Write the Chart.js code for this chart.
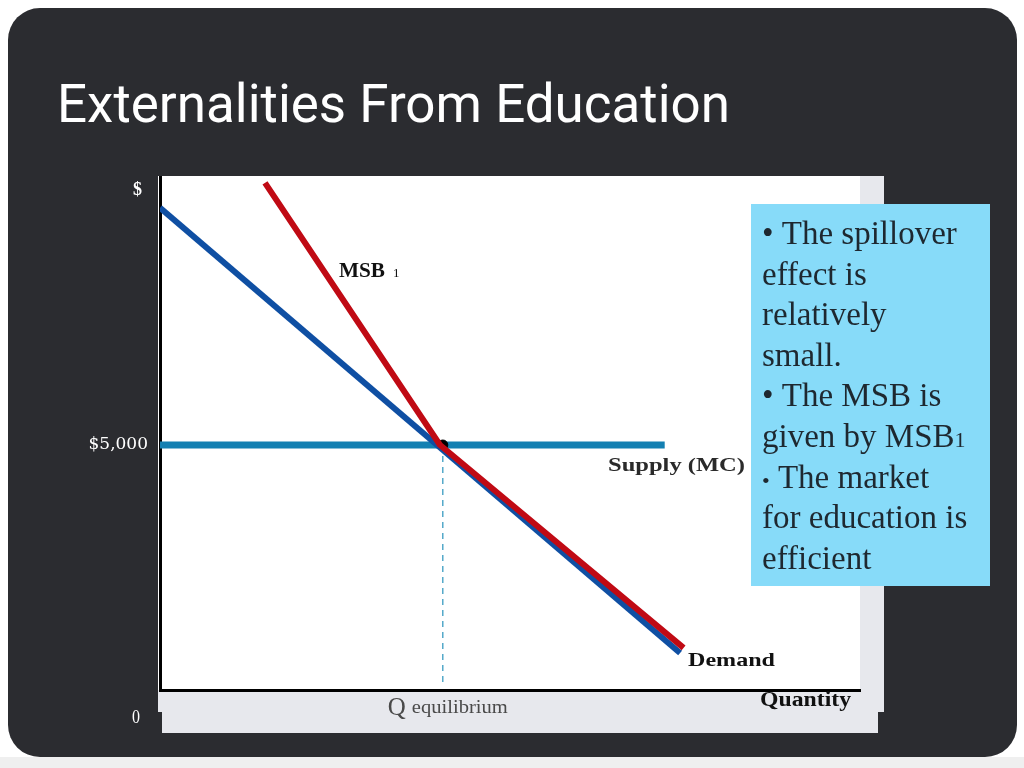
<!DOCTYPE html>
<html><head><meta charset="utf-8">
<script src="https://cdn.jsdelivr.net/npm/chart.js@4.4.1/dist/chart.umd.min.js"></script>
<style>html,body{margin:0;padding:0;background:#fff;overflow:hidden}canvas{display:block}</style>
</head><body><canvas id="c" width="1024" height="768"></canvas>
<script>
// ---- data ----
const quantityRange = [0, 100];
const priceRange = [0, 10470];
const priceTicks = [5000];
const priceTickLabels = ['$5,000'];
const demandQ = [0, 74.3];
const demandP = [9840, 755];
const msbQ = [15, 40, 74.8];
const msbP = [10350, 5000, 860];
const supplyQ = [0, 72.1];
const supplyP = [5000, 5000];
const equilibriumQ = [40.4];
const equilibriumP = [5000];
const qLineP = [5000, 100];
const boxLines = [
  '• The spillover', 'effect is', 'relatively', 'small.',
  '• The MSB is', 'given by MSB|1', '•| The market', 'for education is', 'efficient'
];

const pts = (xs, ys) => xs.map((x, i) => ({x, y: ys[i]}));

function fitText(ctx, text, x, y, font, width, color, align) {
  ctx.save();
  ctx.font = font;
  ctx.fillStyle = color;
  ctx.textBaseline = 'alphabetic';
  ctx.textAlign = 'left';
  const w = ctx.measureText(text).width;
  const s = width ? width / w : 1;
  let x0 = x;
  if (align === 'right') x0 = x - w * s;
  else if (align === 'center') x0 = x - w * s / 2;
  ctx.translate(x0, y);
  ctx.scale(s, 1);
  ctx.fillText(text, 0, 0);
  ctx.restore();
}

function roundRect(ctx, x, y, w, h, r) {
  ctx.beginPath();
  ctx.moveTo(x + r, y);
  ctx.arcTo(x + w, y, x + w, y + h, r);
  ctx.arcTo(x + w, y + h, x, y + h, r);
  ctx.arcTo(x, y + h, x, y, r);
  ctx.arcTo(x, y, x + w, y, r);
  ctx.closePath();
}

const bgPlugin = {
  id: 'bg',
  beforeDraw(chart) {
    const ctx = chart.ctx;
    ctx.save();
    ctx.fillStyle = '#ffffff';
    ctx.fillRect(0, 0, 1024, 768);
    ctx.fillStyle = '#efefef';
    ctx.fillRect(0, 757, 1024, 11);
    ctx.fillStyle = '#2b2c30';
    roundRect(ctx, 8, 8, 1009, 749, 32);
    ctx.fill();
    // title
    fitText(ctx, 'Externalities From Education', 57, 122, '400 54px Roboto', 673, '#ffffff');
    // picture frame
    ctx.fillStyle = '#e7e8ed';
    ctx.fillRect(158, 176, 726, 536);
    ctx.fillRect(162, 712, 716, 21);
    ctx.fillStyle = '#ffffff';
    ctx.fillRect(158, 176, 702, 514);
    ctx.restore();
  },
  afterDraw(chart) {
    const ctx = chart.ctx;
    const xs = chart.scales.x;
    // axis annotations
    fitText(ctx, '$', 133, 195, 'bold 19px "Liberation Serif"', 9, '#ffffff');
    fitText(ctx, '0', 132, 723, '18px "Liberation Serif"', 8, '#ffffff');
    fitText(ctx, 'MSB', 339, 277, 'bold 20px "Liberation Serif"', 46, '#111111');
    fitText(ctx, '1', 393, 277, '13px "Liberation Serif"', null, '#111111');
    fitText(ctx, 'Supply (MC)', 608, 471, 'bold 19px "Liberation Serif"', 137, '#2a2a2a');
    fitText(ctx, 'Demand', 688, 666, 'bold 19px "Liberation Serif"', 87, '#111111');
    fitText(ctx, 'Quantity', 760, 706, 'bold 20px "Liberation Serif"', 91, '#111111');
    const qx = xs.getPixelForValue(equilibriumQ[0]);
    fitText(ctx, 'Q', qx - 55, 715, '25px "Liberation Serif"', 18, '#4a4a4a');
    fitText(ctx, 'equilibrium', qx - 31, 713, '18px "Liberation Serif"', 96, '#4a4a4a');
    // text box
    ctx.save();
    ctx.fillStyle = '#87dbf9';
    ctx.fillRect(751, 204, 239, 382);
    ctx.restore();
    const col = '#1e2830';
    const big = '33px "Liberation Serif"';
    const small = '22px "Liberation Serif"';
    boxLines.forEach((ln, i) => {
      const y = 244 + i * 40.6;
      if (ln.includes('|')) {
        const [a, b] = ln.split('|');
        if (a === '•') {
          fitText(ctx, '•', 762, y, small, null, col);
          ctx.font = small;
          const w = ctx.measureText('•').width;
          fitText(ctx, b, 762 + w, y, big, null, col);
        } else {
          ctx.font = big;
          const w = ctx.measureText(a).width;
          fitText(ctx, a, 762, y, big, null, col);
          fitText(ctx, b, 762 + w, y, small, null, col);
        }
      } else {
        fitText(ctx, ln, 762, y, big, null, col);
      }
    });
  }
};

const YW = 84, XH = 0;
new Chart(document.getElementById('c'), {
  type: 'scatter',
  data: {
    datasets: [
      { label: 'MSB 1', data: pts(msbQ, msbP), showLine: true, borderColor: '#c00a14', borderWidth: 6, pointRadius: 0, order: 1, borderCapStyle: 'butt', borderJoinStyle: 'round' },
      { label: 'Demand', data: pts(demandQ, demandP), showLine: true, borderColor: '#0f4fa3', borderWidth: 6, pointRadius: 0, order: 2 },
      { label: 'Equilibrium', data: pts(equilibriumQ, equilibriumP), showLine: false, backgroundColor: '#000000', borderColor: '#000000', pointRadius: 5, order: 3 },
      { label: 'Supply (MC)', data: pts(supplyQ, supplyP), showLine: true, borderColor: '#1380b2', borderWidth: 7, pointRadius: 0, order: 4 },
      { label: 'Q equilibrium', data: pts([equilibriumQ[0], equilibriumQ[0]], qLineP), showLine: true, borderColor: '#3a9cc2', borderWidth: 1.3, borderDash: [6, 5], pointRadius: 0, order: 5 }
    ]
  },
  options: {
    responsive: false,
    animation: false,
    devicePixelRatio: 1,
    events: [],
    layout: { padding: { left: 160 - YW, top: 177, right: 164, bottom: 768 - 690 - XH } },
    plugins: { legend: { display: false }, tooltip: { enabled: false }, title: { display: false } },
    scales: {
      x: {
        type: 'linear', min: quantityRange[0], max: quantityRange[1],
        grid: { display: false, drawTicks: false },
        border: { display: true, color: '#000000', width: 3 },
        ticks: { display: false },
        afterFit: s => { s.height = XH; }
      },
      y: {
        type: 'linear', min: priceRange[0], max: priceRange[1],
        grid: { display: false, drawTicks: false },
        border: { display: true, color: '#000000', width: 3 },
        afterBuildTicks: s => { s.ticks = priceTicks.map(v => ({ value: v })); },
        ticks: {
          color: '#ffffff', padding: 12,
          font: { family: '"DejaVu Serif"', size: 17 },
          callback: (v) => priceTickLabels[priceTicks.indexOf(v)] ?? ''
        },
        afterFit: s => { s.width = YW; }
      }
    }
  },
  plugins: [bgPlugin]
});
</script>
</body></html>
